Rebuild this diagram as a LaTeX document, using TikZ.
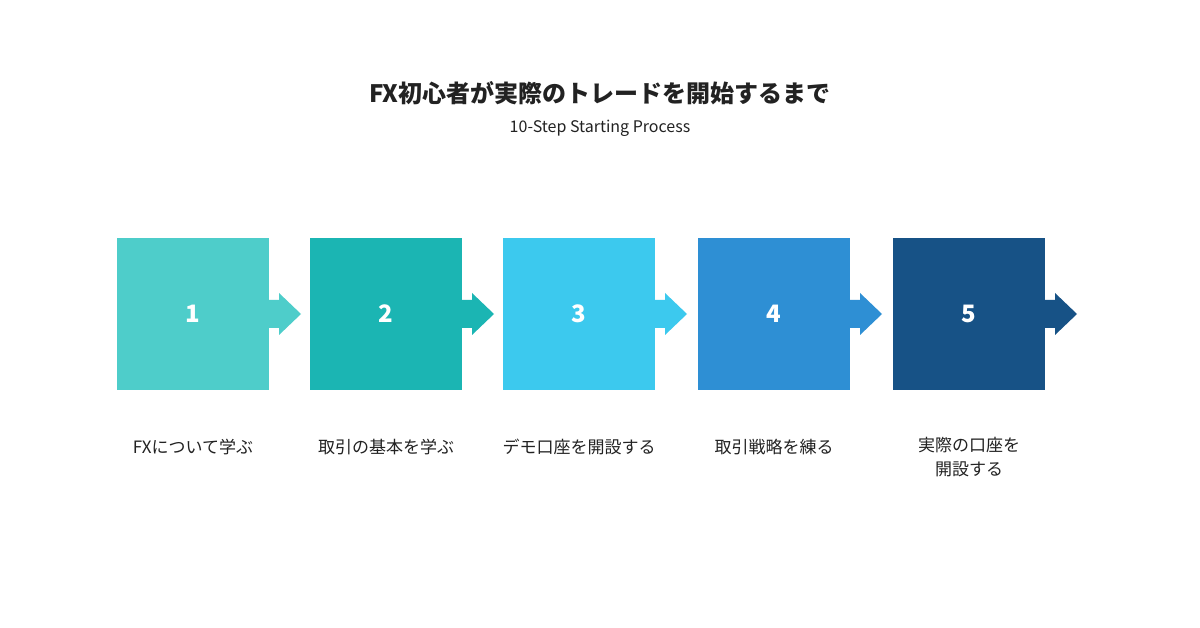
\documentclass[tikz,border=0pt]{standalone}
\usepackage{fontspec}
\setmainfont{Noto Sans CJK JP}
\definecolor{cA}{HTML}{4ECDCA}
\definecolor{cB}{HTML}{1BB5B3}
\definecolor{cC}{HTML}{3CC9EE}
\definecolor{cD}{HTML}{2E8FD4}
\definecolor{cE}{HTML}{175286}
\definecolor{txt}{HTML}{222222}
\begin{document}
\begin{tikzpicture}[x=1pt,y=-1pt,
  sq/.style={fill=#1,minimum size=152pt,inner sep=0,text=white,font=\fontsize{24}{28}\selectfont\bfseries},
  lbl/.style={text=txt,font=\fontsize{17}{24}\selectfont,align=center}]
\useasboundingbox (0,0) rectangle (1200,628);
\fill[white] (0,0) rectangle (1200,628);
\node[text=txt,font=\fontsize{24}{28}\selectfont\bfseries] (title) at (600,93) {FX初心者が実際のトレードを開始するまで};
\node[text=txt,font=\fontsize{16}{20}\selectfont] (sub) at (600,128) {10-Step Starting Process};
\foreach \i/\x/\c/\t in {1/193/cA/FXについて学ぶ,2/386/cB/取引の基本を学ぶ,3/579/cC/デモ口座を開設する,4/774/cD/取引戦略を練る,5/969/cE/{実際の口座を\\開設する}}{
  \node[sq=\c] (s\i) at (\x,314) {\i};
  \fill[\c] (\x+76,300) -- (\x+86,300) -- (\x+86,293) -- (\x+108,314) -- (\x+86,335) -- (\x+86,328) -- (\x+76,328) -- cycle;
}
\node[lbl] (l1) at (193,447) {FXについて学ぶ};
\node[lbl] (l2) at (386,447) {取引の基本を学ぶ};
\node[lbl] (l3) at (579,447) {デモ口座を開設する};
\node[lbl] (l4) at (774,447) {取引戦略を練る};
\node[lbl,anchor=north] (l5) at (969,434) {実際の口座を\\開設する};
\end{tikzpicture}
\end{document}
